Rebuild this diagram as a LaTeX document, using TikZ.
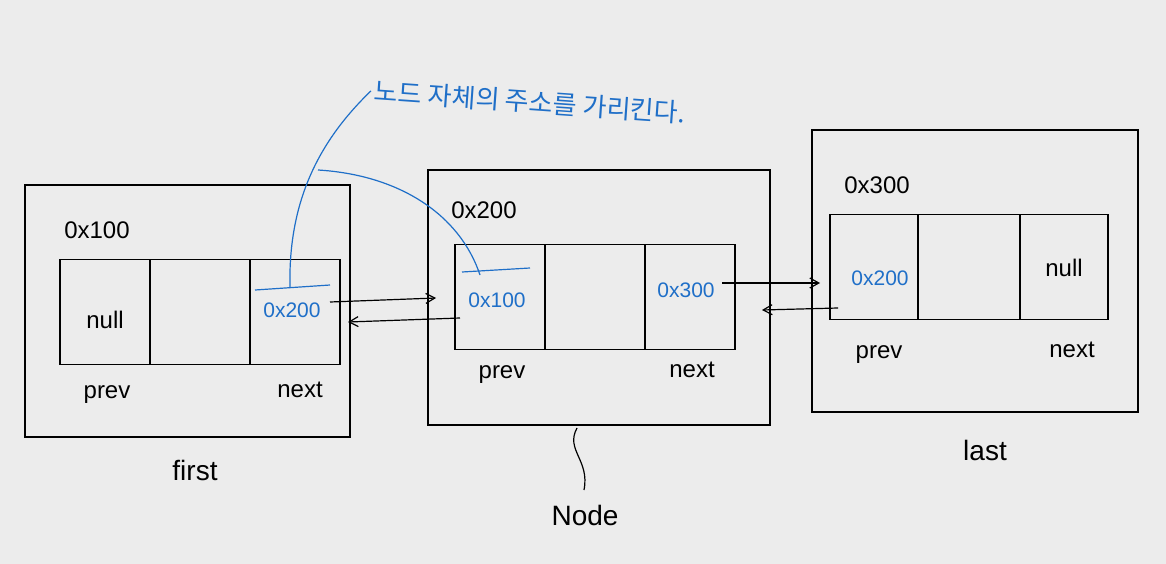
\documentclass[tikz,border=0pt]{standalone}
\usepackage{fontspec}
\setmainfont{Liberation Sans}
\newfontfamily\cjk{Noto Sans CJK KR}
\usetikzlibrary{arrows.meta}
\begin{document}
\begin{tikzpicture}[x=1pt,y=-1pt,
  outer/.style={draw,line width=1.3pt},
  rec/.style={draw,line width=1.3pt,inner sep=0pt},
  lbl/.style={font=\fontsize{24}{26}\selectfont},
  blu/.style={font=\fontsize{21}{23}\selectfont,text=myblue},
  arr/.style={-{Straight Barb[length=9pt,width=10pt]},line width=1.2pt}]
\definecolor{myblue}{HTML}{1F6FC8}
\definecolor{bg}{HTML}{ECECEC}
\fill[bg] (0,0) rectangle (1166,564);
\useasboundingbox (0,0) rectangle (1166,564);
% box 1
\draw[outer] (25,185) rectangle (350,437);
\node[rec,minimum width=280pt,minimum height=105pt] (a) at (200,312) {};
\draw[line width=1.3pt] (150,259) -- (150,365) (250,259) -- (250,365);
\node[lbl] (ad) at (97,230) {0x100};
\node[lbl] (an) at (105,320) {null};
\node[blu] (ap) at (292,310) {0x200};
\node[lbl] (aprev) at (107,395) {prev};
\node[lbl] (anext) at (300,390) {next};
\node[font=\fontsize{28}{30}\selectfont] (first) at (195,470) {first};
% box 2
\draw[outer] (428,170) rectangle (770,425);
\node[rec,minimum width=280pt,minimum height=105pt] (b) at (595,297) {};
\draw[line width=1.3pt] (545,244) -- (545,350) (645,244) -- (645,350);
\node[lbl] (bd) at (484,210) {0x200};
\node[blu] (bp) at (497,300) {0x100};
\node[blu] (bn) at (686,290) {0x300};
\node[lbl] (bprev) at (502,375) {prev};
\node[lbl] (bnext) at (692,370) {next};
\node[font=\fontsize{28}{30}\selectfont] (node) at (585,515) {Node};
\draw[line width=1.2pt] (577,428) .. controls (565,450) and (590,460) .. (584,490);
% box 3
\draw[outer] (812,130) rectangle (1138,412);
\node[rec,minimum width=278pt,minimum height=105pt] (c) at (969,267) {};
\draw[line width=1.3pt] (918,214) -- (918,320) (1020,214) -- (1020,320);
\node[lbl] (cd) at (877,185) {0x300};
\node[blu] (cp) at (880,278) {0x200};
\node[lbl] (cn) at (1064,268) {null};
\node[lbl] (cprev) at (879,355) {prev};
\node[lbl] (cnext) at (1072,350) {next};
\node[font=\fontsize{28}{30}\selectfont] (last) at (985,450) {last};
% arrows
\coordinate (p1) at (330,302); \coordinate (p2) at (436,298);
\coordinate (p3) at (460,318); \coordinate (p4) at (348,322);
\coordinate (p5) at (722,283); \coordinate (p6) at (820,283);
\coordinate (p7) at (838,308); \coordinate (p8) at (762,310);
\draw[arr] (p1) -- (p2);
\draw[arr] (p3) -- (p4);
\draw[arr] (p5) -- (p6);
\draw[arr] (p7) -- (p8);
% blue annotation
\node[text=myblue,font=\cjk\fontsize{26}{28}\selectfont,rotate=-4] (note) at (530,102) {노드 자체의 주소를 가리킨다.};
\coordinate (u1) at (255,290); \coordinate (u2) at (330,285);
\coordinate (u3) at (462,272); \coordinate (u4) at (530,268);
\draw[myblue,line width=1.2pt] (u1) -- (u2);
\draw[myblue,line width=1.2pt] (u3) -- (u4);
\coordinate (s1) at (290,287);
\draw[myblue,line width=1.2pt] (s1) .. controls (288,200) and (320,140) .. (note.west);
\coordinate (s2) at (318,170); \coordinate (s3) at (480,275);
\draw[myblue,line width=1.2pt] (s2) .. controls (400,175) and (460,215) .. (s3);
\end{tikzpicture}
\end{document}
